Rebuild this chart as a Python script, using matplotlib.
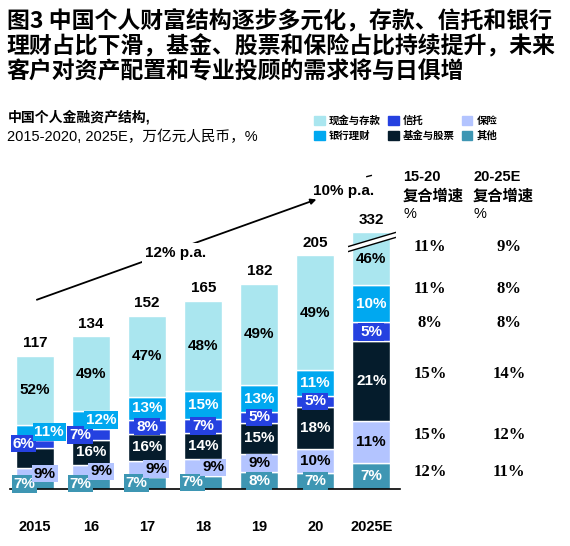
import matplotlib
matplotlib.use("Agg")
import matplotlib.pyplot as plt
import matplotlib.transforms as mtransforms
from matplotlib.patches import Patch, Polygon
import numpy as np

plt.rcParams['font.family'] = ['Liberation Sans', 'Noto Sans CJK SC', 'DejaVu Sans']

# data
years = ["2015", "16", "17", "18", "19", "20", "2025E"]
totals = [117, 134, 152, 165, 182, 205, 332]
series_names = ["其他", "保险", "基金与股票", "信托", "银行理财", "现金与存款"]
other = [7, 7, 7, 7, 8, 7, 7]
insurance = [9, 9, 9, 9, 9, 10, 11]
funds = [15, 16, 16, 14, 15, 18, 21]
trust = [6, 7, 8, 7, 5, 5, 5]
wmp = [11, 12, 13, 15, 13, 11, 10]
cash = [52, 49, 47, 48, 49, 49, 46]
cagr_15_20 = ["12%", "15%", "15%", "8%", "11%", "11%"]
cagr_20_25 = ["11%", "12%", "14%", "8%", "8%", "9%"]

colors = ["#3E96B3", "#B3C4FF", "#051C2C", "#2541E0", "#00A8F0", "#AAE6EF"]
text_colors = ["white", "black", "white", "white", "white", "black"]
display_cap = 225          # 2025E bar is drawn broken at this height
# label x-offsets (bar units) for crowded segments, per series
offsets = [
    [-0.19, -0.19, -0.19, -0.19, 0, 0, 0],
    [0.17, 0.18, 0.16, 0.18, 0, 0, 0],
    [0, 0, 0, 0, 0, 0, 0],
    [-0.21, -0.2, 0, 0, 0, 0, 0],
    [0.25, 0.18, 0, 0, 0, 0, 0],
    [0, 0, 0, 0, 0, 0, 0],
]
hidden = {(2, 0)}          # funds label not shown for 2015
row_y = [15, 47, 101, 146, 175, 212]

fig = plt.figure(figsize=(5.7, 5.46), dpi=100)
ax = fig.add_axes([0.0175, 0.1044, 0.685, 0.6026])

x = np.arange(len(years))
shares = np.array([other, insurance, funds, trust, wmp, cash], dtype=float)
bottoms = np.zeros(len(years))
width = 0.68
for s in range(len(series_names)):
    heights = shares[s] / 100 * np.array(totals)
    if s == len(series_names) - 1:
        heights = np.minimum(heights, display_cap - bottoms)
    ax.bar(x, heights, width, bottom=bottoms, color=colors[s],
           edgecolor="white", linewidth=1.0, zorder=2)
    for i in range(len(years)):
        if (s, i) in hidden:
            continue
        ax.text(x[i] + offsets[s][i], bottoms[i] + heights[i] / 2,
                f"{int(shares[s][i])}%", ha="center", va="center",
                fontsize=11, fontweight="bold", color=text_colors[s], zorder=4,
                bbox=dict(boxstyle="square,pad=0.12", fc=colors[s], ec="none"))
    bottoms = bottoms + heights

for i in range(len(years)):
    ax.text(x[i], bottoms[i] + 5, str(totals[i]), ha="center", va="bottom",
            fontsize=11, fontweight="bold")

# break marks on the 2025E bar
xb0, xb1 = x[-1] - 0.43, x[-1] + 0.46
brk = Polygon([[xb0, 208], [xb1, 221], [xb1, 225.4], [xb0, 212.4]],
              closed=True, fc="white", ec="black", lw=1.0, zorder=5,
              clip_on=False)
ax.add_patch(brk)
ax.plot([xb0, xb0], [208, 212.4], color="white", lw=1.5, zorder=6, clip_on=False)
ax.plot([xb1, xb1], [221, 225.4], color="white", lw=1.5, zorder=6, clip_on=False)

# growth arrows
ax.annotate("", xy=(5.02, 254), xytext=(0.03, 166),
            arrowprops=dict(arrowstyle="-|>", color="black", lw=1.3,
                            mutation_scale=8, shrinkA=0, shrinkB=0))
ax.text(2.5, 207, "12% p.a.", ha="center", va="center", fontsize=11,
        fontweight="bold", bbox=dict(fc="white", ec="none", pad=2), zorder=3)
ax.text(5.5, 261, "10% p.a.", ha="center", va="center", fontsize=11,
        fontweight="bold")
ax.plot([5.92, 6.0], [274, 275], color="black", lw=1.0)

ax.set_xlim(-0.45, 6.52)
ax.set_ylim(0, 288.6)
ax.set_xticks(x)
ax.set_xticklabels(years, fontsize=10.5, fontweight="bold")
ax.tick_params(axis="x", length=0, pad=22)
ax.set_yticks([])
for sp in ["top", "right", "left"]:
    ax.spines[sp].set_visible(False)
ax.spines["bottom"].set_linewidth(1.2)

# CAGR table
trans = mtransforms.blended_transform_factory(fig.transFigure, ax.transData)
for yv, a, b in zip(row_y, cagr_15_20, cagr_20_25):
    ax.text(430 / 570, yv, a, transform=trans, ha="center", va="center",
            fontsize=12, fontweight="bold", family="Liberation Serif")
    ax.text(509 / 570, yv, b, transform=trans, ha="center", va="center",
            fontsize=12, fontweight="bold", family="Liberation Serif")
for xh, head in [(403, "15-20"), (473, "20-25E")]:
    fig.text(xh / 570, 1 - 177 / 546, head, ha="left", va="center",
             fontsize=10.5, fontweight="bold")
    fig.text(xh / 570, 1 - 196 / 546, "复合增速", ha="left", va="center",
             fontsize=11, fontweight="bold")
    fig.text(xh / 570, 1 - 214 / 546, "%", ha="left", va="center",
             fontsize=10.5)

# title and subtitle
fig.text(0.012, 1 - 10 / 546,
         "图3 中国个人财富结构逐步多元化，存款、信托和银行\n"
         "理财占比下滑，基金、股票和保险占比持续提升，未来\n"
         "客户对资产配置和专业投顾的需求将与日俱增",
         ha="left", va="top", fontsize=16.5, fontweight="bold",
         linespacing=1.1, family=["Noto Sans CJK SC"])
fig.text(0.014, 1 - 117 / 546, "中国个人金融资产结构,", ha="left", va="center",
         fontsize=10, fontweight="bold")
fig.text(0.012, 1 - 137 / 546, "2015-2020, 2025E，万亿元人民币，%", ha="left",
         va="center", fontsize=10.5)

# legend
handles = [Patch(color=colors[s]) for s in [5, 4, 3, 2, 1, 0]]
labels = [series_names[s] for s in [5, 4, 3, 2, 1, 0]]
fig.legend(handles, labels, ncol=3, loc="upper left",
           bbox_to_anchor=(305 / 570, 1 - 106 / 546), frameon=False,
           handlelength=1.0, handleheight=1.0, handletextpad=0.4,
           columnspacing=0.7, labelspacing=0.45,
           prop=dict(size=7.5, weight="bold", family=["Noto Sans CJK SC"]))

fig.savefig("out.png", dpi=100)
